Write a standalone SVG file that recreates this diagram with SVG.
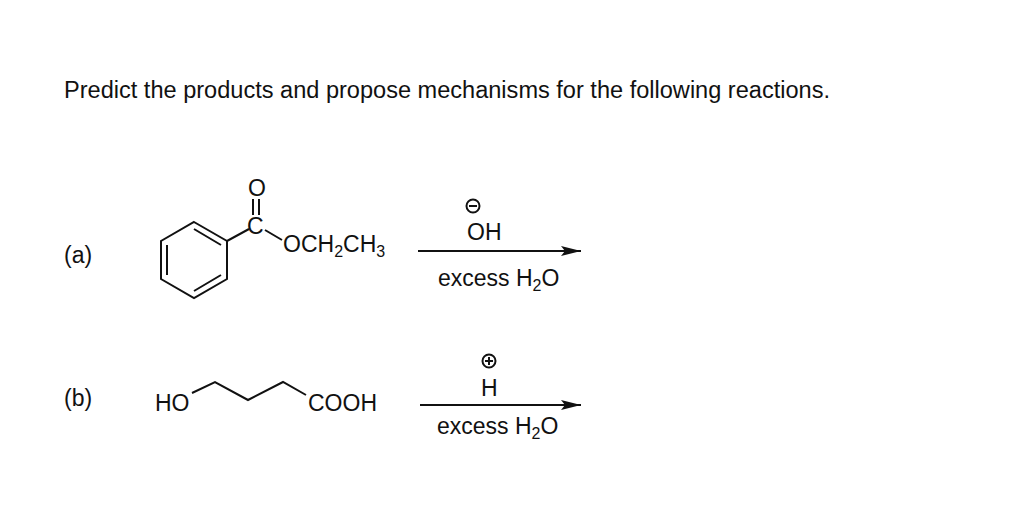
<svg xmlns="http://www.w3.org/2000/svg" width="1015" height="515" viewBox="0 0 1015 515">
<style>
text{font-family:"Liberation Sans",Arial,sans-serif;fill:#111;font-size:23px}
.b{stroke:#111;stroke-width:2;fill:none}
.s{font-size:16px}
</style>
<defs><marker id="ah" markerWidth="20" markerHeight="10" refX="20" refY="5" orient="auto" markerUnits="userSpaceOnUse"><path d="M0,0L20,5L0,10L4,5Z" fill="#111"/></marker></defs>
<rect width="1015" height="515" fill="#fff"/>
<text x="64" y="98" textLength="766" lengthAdjust="spacingAndGlyphs">Predict the products and propose mechanisms for the following reactions.</text>
<g id="label-a"><text x="64" y="263">(a)</text></g>
<g id="label-b"><text x="64" y="406">(b)</text></g>
<g id="ester">
<path class="b" d="M194,222L227,241L227,279L194,298L161,279L161,241Z"/>
<path class="b" d="M194,229L221,245M221,275L194,291M167,275L167,245"/>
<path class="b" d="M227,241L249,229M253,199V215M259,199V215M265,230L282,240"/>
<text x="248" y="196">O</text>
<text x="247" y="234">C</text>
<text x="283" y="252">OCH<tspan class="s" dy="5">2</tspan><tspan dy="-5">CH</tspan><tspan class="s" dy="5">3</tspan></text>
</g>
<g id="acid">
<text x="155" y="411">HO</text>
<path class="b" d="M192,393L215,382L248,400L283,382L306,395"/>
<text x="308" y="411">COOH</text>
</g>
<g id="connectors">
<line class="b" x1="418" y1="251" x2="581" y2="251" marker-end="url(#ah)"/>
<line class="b" x1="420" y1="405" x2="581" y2="405" marker-end="url(#ah)"/>
</g>
<g id="cond-a">
<circle cx="473" cy="206" r="6.5" class="b" stroke-width="1.5"/><line x1="469" y1="206" x2="477" y2="206" class="b" stroke-width="1.5"/>
<text x="467" y="240">OH</text>
<text x="438" y="286">excess H<tspan class="s" dy="5">2</tspan><tspan dy="-5">O</tspan></text>
</g>
<g id="cond-b">
<circle cx="489" cy="361" r="6.5" class="b" stroke-width="1.5"/><path d="M485,361H493M489,357V365" class="b" stroke-width="1.5"/>
<text x="481" y="396">H</text>
<text x="437" y="434">excess H<tspan class="s" dy="5">2</tspan><tspan dy="-5">O</tspan></text>
</g>
</svg>
